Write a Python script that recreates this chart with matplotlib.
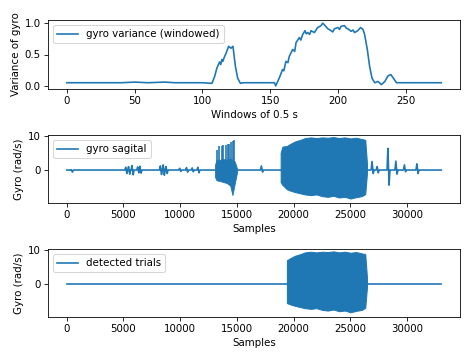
import numpy as np
import matplotlib
matplotlib.use("Agg")
import matplotlib.pyplot as plt

# ---------------- data ----------------
# Panel 1: windowed gyro variance
var_w = [0, 20, 40, 50, 60, 72, 80, 100, 107, 109, 110.6, 112.6, 113.5, 114.3, 115, 116, 117.6,
         119.3, 121, 122.5, 124.3, 126, 128, 130, 140, 153, 154, 156.5, 158, 159, 160, 161.5,
         163, 164, 166.5, 168, 169, 171.4, 172.5, 173.9, 175.6, 176.5, 177.6, 179, 180,
         182.5, 184, 185, 187.4, 188.6, 190.4, 192.4, 194.8, 196, 197.3, 199.8, 201, 202.2,
         204.7, 206, 207.1, 209.6, 211, 212.1, 214.5, 216.5, 218.3, 219.5, 221.5, 223.2,
         225, 227, 229.4, 231.9, 234.4, 236.8, 238.8, 240.8, 243, 250, 260, 276]
var_v = [0.05, 0.05, 0.05, 0.06, 0.05, 0.06, 0.05, 0.05, 0.04, 0.15, 0.28, 0.38, 0.34, 0.42,
         0.39, 0.45, 0.53, 0.63, 0.60, 0.63, 0.31, 0.12, 0.04, 0.05, 0.05, 0.05, 0.00, 0.12,
         0.20, 0.26, 0.24, 0.39, 0.37, 0.47, 0.58, 0.55, 0.69, 0.77, 0.73, 0.82, 0.88, 0.83,
         0.85, 0.82, 0.88, 0.85, 0.90, 0.93, 0.96, 1.00, 0.96, 0.91, 0.88, 0.86, 0.91, 0.93,
         0.90, 0.95, 0.96, 0.92, 0.91, 0.87, 0.89, 0.85, 0.88, 0.93, 0.90, 0.82, 0.58, 0.31,
         0.12, 0.05, 0.07, 0.02, 0.07, 0.16, 0.18, 0.12, 0.05, 0.05, 0.05, 0.05]

# Panel 2: gyro sagittal signal, quiet parts with isolated spikes
n_samples = 33000
ev_x = [450, 5250, 5500, 5800, 6300, 6500, 8300, 8550, 8800, 10000, 10600, 11100, 11600,
        17200, 26950, 27400, 28350, 29050, 29800, 30900]
ev_hi = [0.1, 0.8, 1.0, 1.3, 0.9, 1.1, 1.2, 1.5, 1.0, 0.5, 0.7, 0.6, 0.8, 1.2, 2.5, 1.0,
         6.3, 2.6, 1.5, 1.8]
ev_lo = [-0.6, -1.0, -1.2, -1.4, -0.8, -0.9, -1.3, -1.5, -1.0, -0.4, -0.6, -0.5, -0.8,
         -0.6, -1.0, -0.8, -4.4, -1.2, -0.5, -1.0]

# small burst (core envelope + distinct spikes)
sb_x = [13060, 13200, 13500, 13800, 14100, 14400, 14600, 14800, 15000]
sb_hi = [1.5, 3.0, 3.0, 3.2, 3.0, 3.3, 3.0, 2.5, 0.5]
sb_lo = [-2.0, -3.0, -3.2, -3.5, -3.8, -4.5, -7.3, -4.0, -0.8]
sb_spk_x = [13200, 13440, 13650, 13790, 14000, 14180, 14320, 14470, 14620, 14740]
sb_spk_hi = [5.8, 7.0, 7.0, 7.3, 7.3, 7.6, 7.7, 8.2, 8.5, 8.7]

# large burst envelope
big_x = [18850, 19000, 19400, 19700, 20100, 20600, 21000, 21500, 22000, 22500, 23000,
         23500, 24000, 24500, 25000, 25500, 26000, 26300, 26450]
big_hi = [5.0, 6.8, 7.0, 7.6, 8.3, 8.8, 9.3, 9.5, 9.3, 9.5, 9.4, 9.6, 9.3, 9.5, 9.2, 9.4,
          9.0, 8.8, 2.0]
big_lo = [-3.5, -4.3, -5.6, -6.0, -6.4, -6.8, -7.1, -7.3, -7.1, -7.6, -7.8, -7.5, -8.0,
          -7.8, -8.3, -7.9, -7.6, -7.0, -1.0]

# Panel 3: detected trial window
trial_start, trial_end = 19400, 26450

x1_ticks = [0, 50, 100, 150, 200, 250]
x2_ticks = [0, 5000, 10000, 15000, 20000, 25000, 30000]
y2_ticks = [0, 10]

C = '#1f77b4'
LW = 1.6

# ---------------- figure ----------------
fig = plt.figure(figsize=(474 / 74, 356 / 74), dpi=74)
L, W = 48 / 474, 412 / 474
ax1 = fig.add_axes([L, 1 - 89 / 356, W, 69 / 356])
ax2 = fig.add_axes([L, 1 - 203 / 356, W, 68 / 356])
ax3 = fig.add_axes([L, 1 - 317 / 356, W, 68 / 356])

# panel 1
ax1.plot(var_w, var_v, color=C, lw=LW, label='gyro variance (windowed)')
ax1.set_xticks(x1_ticks)
ax1.set_yticks([0.0, 0.5, 1.0])
ax1.set_ylim(-0.05, 1.05)
ax1.set_xlim(-13.8, 289.8)
ax1.set_xlabel('Windows of 0.5 s')
ax1.set_ylabel('Variance of gyro')
ax1.legend(loc='upper left')

# panel 2 line
d_out, d_in = 130, 50
lx, ly = [0], [0]
for x, h, l in zip(ev_x, ev_hi, ev_lo):
    lx += [x - d_out, x - d_in, x + d_in, x + d_out]
    ly += [0, h, l, 0]
lx.append(n_samples)
ly.append(0)
ax2.plot(lx, ly, color=C, lw=LW, label='gyro sagital')
ax2.fill_between(sb_x, sb_lo, sb_hi, color=C, lw=0.8)
ax2.vlines(sb_spk_x, 0, sb_spk_hi, color=C, lw=LW)
ax2.fill_between(big_x, big_lo, big_hi, color=C, lw=1.0, edgecolor=C)
ax2.set_xlim(-0.05 * n_samples, 1.05 * n_samples)
ax2.set_ylim(-9.6, 10.2)
ax2.set_xticks(x2_ticks)
ax2.set_yticks(y2_ticks)
ax2.set_xlabel('Samples')
ax2.set_ylabel('Gyro (rad/s)')
ax2.legend(loc='upper left')

# panel 3
bx = np.array(big_x)
mask = (bx >= trial_start) & (bx <= trial_end)
ax3.plot([0, n_samples], [0, 0], color=C, lw=LW, label='detected trials')
ax3.fill_between(bx[mask], np.array(big_lo)[mask], np.array(big_hi)[mask],
                 color=C, lw=1.0, edgecolor=C)
ax3.set_xlim(-0.05 * n_samples, 1.05 * n_samples)
ax3.set_ylim(-9.7, 10.3)
ax3.set_xticks(x2_ticks)
ax3.set_yticks(y2_ticks)
ax3.set_xlabel('Samples')
ax3.set_ylabel('Gyro (rad/s)')
ax3.legend(loc='upper left')

fig.savefig('out.png', dpi=74)
